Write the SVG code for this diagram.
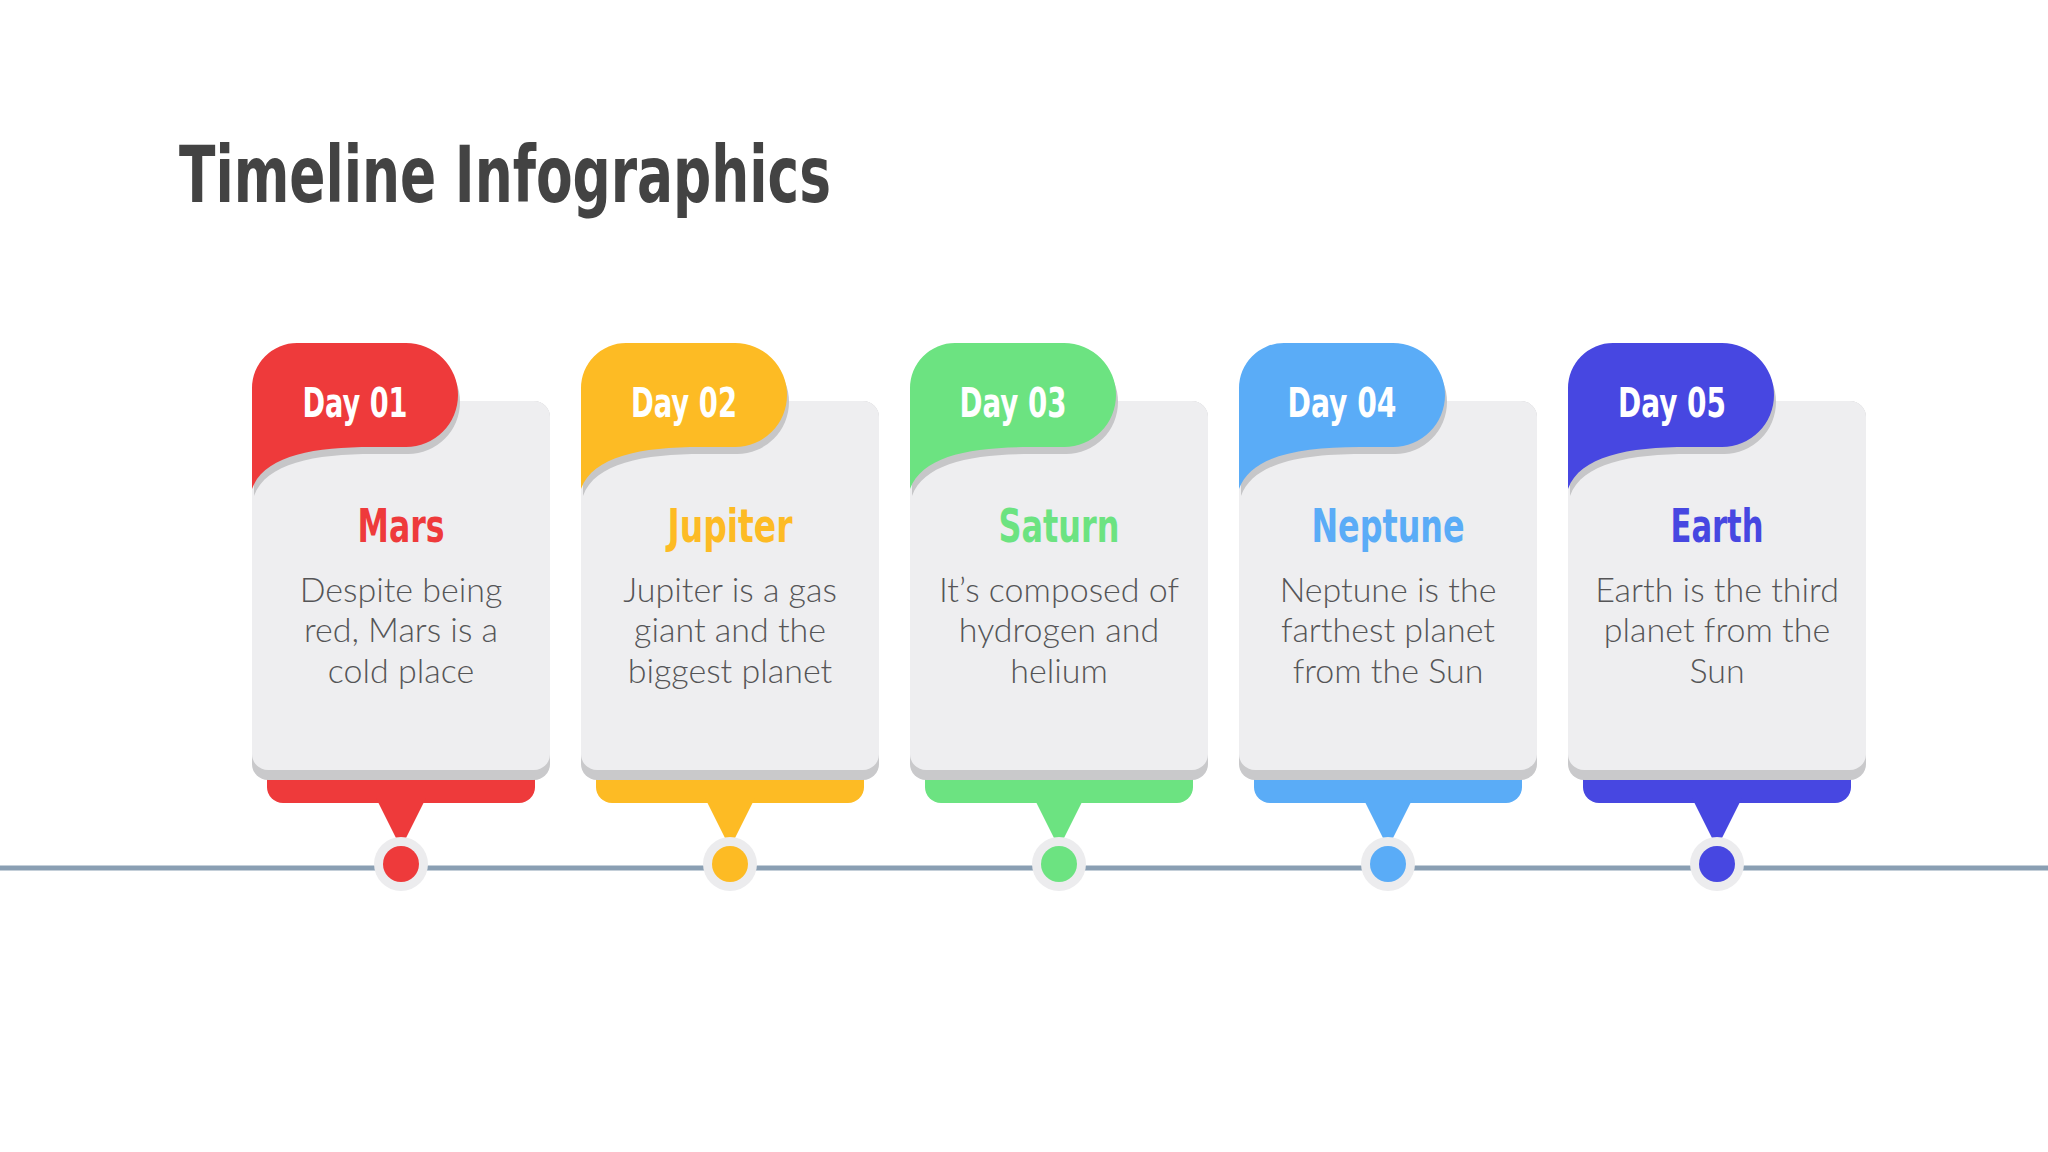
<svg xmlns="http://www.w3.org/2000/svg" width="2048" height="1152" viewBox="0 0 2048 1152">
  <defs>
    <style>
      .title{font-family:"Liberation Sans Narrow","DejaVu Sans Condensed","Liberation Sans",sans-serif;font-weight:bold;font-size:78px;fill:#434343}
      .day{font-family:"Liberation Sans Narrow","DejaVu Sans Condensed","Liberation Sans",sans-serif;font-weight:bold;font-size:40px;fill:#ffffff;text-anchor:middle}
      .name{font-family:"Liberation Sans Narrow","DejaVu Sans Condensed","Liberation Sans",sans-serif;font-weight:bold;font-size:46px;text-anchor:middle}
      .desc{font-family:Lato,Roboto,"Liberation Sans",sans-serif;font-weight:300;font-size:34px;fill:#555557;text-anchor:middle}
      .card{fill:#eeeef0}
      .lip{fill:#c9c9cb}
      .shadow{fill:#c6c6c8}
      .ring{fill:#ececee}
      .line{stroke:#8a9fb3;stroke-width:5;fill:none}
    </style>
    <path id="tab" d="M0 388 A45 45 0 0 1 45 343 H154 A52 52 0 0 1 154 447 H120 C60 447 12 456 0 489 Z"/>
    <g id="cardbase">
      <rect x="15" y="760" width="268" height="43" rx="16"/>
      <path d="M124 798 H174 L149 848 Z"/>
      <rect class="lip" x="0" y="401" width="298" height="379" rx="16"/>
      <rect class="card" x="0" y="401" width="298" height="369" rx="16"/>
      <use href="#tab" class="shadow" transform="translate(2,7)"/>
      <use href="#tab"/>
      <circle class="ring" cx="149" cy="864" r="27"/>
      <circle cx="149" cy="864" r="18"/>
    </g>
  </defs>

  <rect width="2048" height="1152" fill="#ffffff"/>

  <text class="title" x="179" y="202" textLength="652" lengthAdjust="spacingAndGlyphs">Timeline Infographics</text>

  <g id="connectors">
    <line class="line" x1="0" y1="868" x2="2048" y2="868"/>
  </g>

  <g id="node-day01" fill="#ee3a3b" transform="translate(252,0)">
    <use href="#cardbase"/>
    <text class="day" x="103" y="417" textLength="105" lengthAdjust="spacingAndGlyphs">Day 01</text>
    <text class="name" x="149" y="542" fill="#ee3a3b" textLength="87" lengthAdjust="spacingAndGlyphs">Mars</text>
    <text class="desc" x="149" y="602">Despite being</text>
    <text class="desc" x="149" y="642">red, Mars is a</text>
    <text class="desc" x="149" y="683">cold place</text>
  </g>

  <g id="node-day02" fill="#fdbb24" transform="translate(581,0)">
    <use href="#cardbase"/>
    <text class="day" x="103" y="417" textLength="106" lengthAdjust="spacingAndGlyphs">Day 02</text>
    <text class="name" x="149" y="542" fill="#fdbb24" textLength="125" lengthAdjust="spacingAndGlyphs">Jupiter</text>
    <text class="desc" x="149" y="602">Jupiter is a gas</text>
    <text class="desc" x="149" y="642">giant and the</text>
    <text class="desc" x="149" y="683">biggest planet</text>
  </g>

  <g id="node-day03" fill="#6ce381" transform="translate(910,0)">
    <use href="#cardbase"/>
    <text class="day" x="103" y="417" textLength="107" lengthAdjust="spacingAndGlyphs">Day 03</text>
    <text class="name" x="149" y="542" fill="#6ce381" textLength="121" lengthAdjust="spacingAndGlyphs">Saturn</text>
    <text class="desc" x="149" y="602">It’s composed of</text>
    <text class="desc" x="149" y="642">hydrogen and</text>
    <text class="desc" x="149" y="683">helium</text>
  </g>

  <g id="node-day04" fill="#5aacf7" transform="translate(1239,0)">
    <use href="#cardbase"/>
    <text class="day" x="103" y="417" textLength="109" lengthAdjust="spacingAndGlyphs">Day 04</text>
    <text class="name" x="149" y="542" fill="#5aacf7" textLength="153" lengthAdjust="spacingAndGlyphs">Neptune</text>
    <text class="desc" x="149" y="602">Neptune is the</text>
    <text class="desc" x="149" y="642">farthest planet</text>
    <text class="desc" x="149" y="683">from the Sun</text>
  </g>

  <g id="node-day05" fill="#4747e1" transform="translate(1568,0)">
    <use href="#cardbase"/>
    <text class="day" x="104" y="417" textLength="108" lengthAdjust="spacingAndGlyphs">Day 05</text>
    <text class="name" x="149" y="542" fill="#4747e1" textLength="93" lengthAdjust="spacingAndGlyphs">Earth</text>
    <text class="desc" x="149" y="602">Earth is the third</text>
    <text class="desc" x="149" y="642">planet from the</text>
    <text class="desc" x="149" y="683">Sun</text>
  </g>
</svg>
